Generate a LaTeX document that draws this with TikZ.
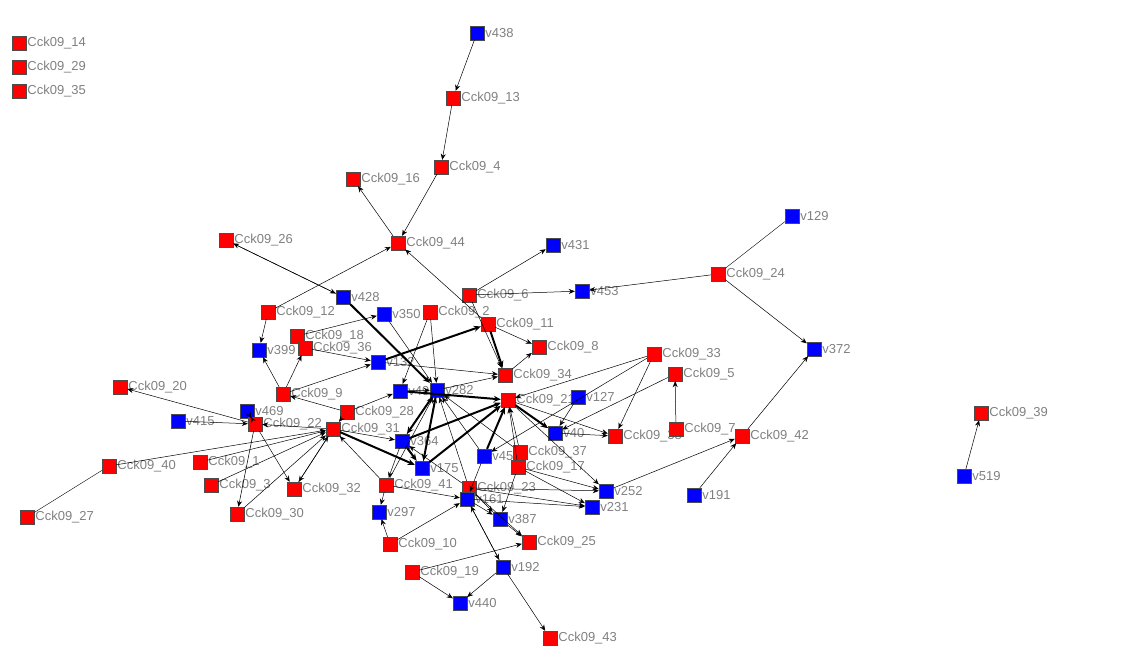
\documentclass[tikz,border=0pt]{standalone}
\usepackage{fontspec}
\setmainfont{Liberation Sans}
\usetikzlibrary{arrows.meta}
\begin{document}
\begin{tikzpicture}[x=1pt,y=-1pt,
 rn/.style={draw=black!70,fill=red,minimum size=14pt,inner sep=0pt,line width=0.4pt},
 bn/.style={draw=black!70,fill=blue,minimum size=14pt,inner sep=0pt,line width=0.4pt},
 lab/.style={text=black!50,font=\fontsize{13}{13}\selectfont,inner sep=1pt,xshift=0pt},
 e/.style={-{Stealth[length=6pt,width=5pt]},line width=0.5pt},
 t/.style={-{Stealth[length=7pt,width=6pt]},line width=2pt}]
\useasboundingbox (0,0) rectangle (1128,665);
\newcommand{\R}[4][right]{\node[rn,label={[lab]#1:#4}] (#2) at (#3) {};}
\newcommand{\B}[4][right]{\node[bn,label={[lab]#1:#4}] (#2) at (#3) {};}
\R{c14}{19,43}{Cck09\_14}
\R{c29}{19,67}{Cck09\_29}
\R{c35}{19,91}{Cck09\_35}
\B{v438}{477,33}{v438}
\R{c13}{453,98}{Cck09\_13}
\R{c4}{441,167}{Cck09\_4}
\R{c16}{353,179}{Cck09\_16}
\R{c44}{398,243}{Cck09\_44}
\R{c26}{226,240}{Cck09\_26}
\B{v129}{792,216}{v129}
\B{v431}{553,245}{v431}
\R{c24}{718,274}{Cck09\_24}
\B{v453}{582,291}{v453}
\R{c6}{469,295}{Cck09\_6}
\B{v428}{343,297}{v428}
\R{c12}{268,312}{Cck09\_12}
\R{c2}{430,312}{Cck09\_2}
\B{v350}{384,314}{v350}
\R{c11}{488,324}{Cck09\_11}
\R{c18}{297,336}{Cck09\_18}
\R{c36}{305,348}{Cck09\_36}
\B{v399}{259,350}{v399}
\R{c8}{539,347}{Cck09\_8}
\B{v372}{814,349}{v372}
\R{c33}{654,354}{Cck09\_33}
\B{v132}{378,362}{v132}
\R{c5}{675,374}{Cck09\_5}
\R{c34}{505,375}{Cck09\_34}
\R{c20}{120,387}{Cck09\_20}
\R{c9}{283,394}{Cck09\_9}
\B{v493}{400,391}{v493}
\B{v282}{437,390}{v282}
\R{c21}{508,400}{Cck09\_21}
\B{v127}{578,397}{v127}
\B{v469}{247,411}{v469}
\B{v415}{178,421}{v415}
\R{c28}{347,412}{Cck09\_28}
\R{c22}{255,424}{Cck09\_22}
\R{c31}{333,429}{Cck09\_31}
\B{v40}{555,433}{v40}
\R{c38}{615,436}{Cck09\_38}
\R{c7}{676,429}{Cck09\_7}
\R{c42}{742,436}{Cck09\_42}
\B{v364}{402,441}{v364}
\R{c37}{520,452}{Cck09\_37}
\B{v45}{484,456}{v45}
\R{c1}{200,462}{Cck09\_1}
\R{c40}{109,466}{Cck09\_40}
\R{c17}{518,467}{Cck09\_17}
\B{v175}{422,468}{v175}
\R{c3}{211,485}{Cck09\_3}
\R{c41}{386,485}{Cck09\_41}
\R{c23}{469,488}{Cck09\_23}
\R{c32}{294,489}{Cck09\_32}
\B{v252}{606,491}{v252}
\B{v191}{694,495}{v191}
\B{v161}{467,499}{v161}
\B{v231}{592,507}{v231}
\B{v297}{379,512}{v297}
\B{v387}{500,519}{v387}
\R{c30}{237,514}{Cck09\_30}
\R{c27}{27,517}{Cck09\_27}
\R{c10}{390,544}{Cck09\_10}
\R{c25}{529,542}{Cck09\_25}
\B{v192}{503,567}{v192}
\R{c19}{412,572}{Cck09\_19}
\B{v440}{460,603}{v440}
\R{c43}{550,638}{Cck09\_43}
\R{c39}{981,413}{Cck09\_39}
\B{v519}{964,476}{v519}
\foreach \a/\b in {v438/c13,c13/c4,c4/c44,c44/c16,c11/c44,v428/c26,c26/v428,c24/v453,c24/v372,c42/v372,v191/c42,v252/c42,c7/c5,c33/c21,c5/v40,v519/c39,c40/c31,c22/c20,v415/c22,v192/c43,v192/v440,c19/v440,c19/c25,v192/v161,c10/v297,c10/v161,c12/v399,c9/v399,c9/c36,c9/v132,c6/v453,c6/v431,c2/v493,c11/c8,c33/c38,c21/v40,v127/v40,c21/c38,c17/v252,c17/v231,c23/v252,c23/v231,v161/v231,c23/c25,v387/c25,v161/v192,c22/c32,c22/c30,c1/c31,c3/c31,c30/c31,c28/c31,c22/v469,c32/c31,c28/v493,c28/c9,v469/c22,c31/c22,c41/v297,c41/c31,v364/c41,c31/c32,c23/v387,c17/v387,v45/c21,c37/c21,c17/c21,v45/v282,c34/c8,v282/c34,c36/v132,c18/v350,v132/c34,v350/v282,c12/c44,c21/v252,v40/c38,c23/v364,c41/v161,v45/v161,v175/v282,v364/v282,c23/v282,c37/v282,c6/c34,c2/v282,v493/v282,c33/v45,c31/v364,c41/v282,v161/v387}
 \draw[e] (\a) -- (\b);
\foreach \a/\b in {v132/c11,v428/v282,c31/v175,v175/c21,v282/v175,v364/c21,v364/v175,c11/c34,v45/c21,c21/v40,v493/c21,v282/v364}
 \draw[t] (\a) -- (\b);
\draw[line width=0.4pt] (c24) -- (v129) (c27) -- (c40);
\end{tikzpicture}
\end{document}
